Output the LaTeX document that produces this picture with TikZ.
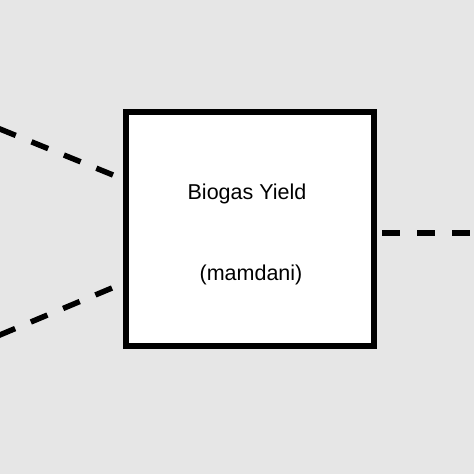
\documentclass[tikz,border=0pt]{standalone}
\usepackage{fontspec}
\setmainfont{Liberation Sans}
\definecolor{bggray}{RGB}{230,230,230}
\begin{document}
\begin{tikzpicture}[x=1pt,y=-1pt,
  fisbox/.style={draw=black,line width=6.5pt,fill=white,minimum width=248pt,minimum height=234pt,inner sep=0pt},
  fistext/.style={font=\fontsize{21.5}{24}\selectfont,anchor=base,inner sep=0pt},
  dashlink/.style={line width=5.5pt,dash pattern=on 18pt off 17pt}]
\fill[bggray] (0,0) rectangle (474,474);
\useasboundingbox (0,0) rectangle (474,474);
\node[fisbox] (box) at (250,229) {};
\node[fistext] (t1) at (247,199) {Biogas Yield};
\node[fistext] (t2) at (251,280) {(mamdani)};
\coordinate (a1) at (113,175);
\coordinate (a2) at (-5,127);
\coordinate (b1) at (112,288);
\coordinate (b2) at (-5,337);
\coordinate (c1) at (382,233);
\coordinate (c2) at (480,233);
\draw[dashlink] (a1) -- (a2);
\draw[dashlink] (b1) -- (b2);
\draw[dashlink] (c1) -- (c2);
\end{tikzpicture}
\end{document}
